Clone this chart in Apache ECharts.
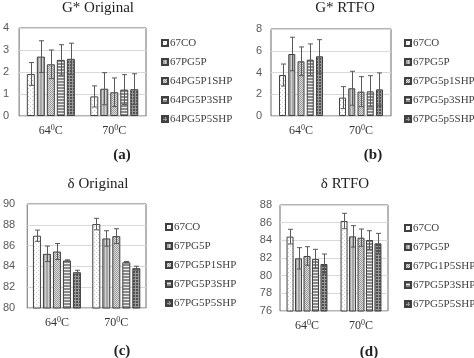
<!DOCTYPE html>
<html>
<head>
<meta charset="utf-8">
<script src="https://cdn.jsdelivr.net/npm/echarts@6/dist/echarts.min.js"></script>
<style>
  html, body { margin: 0; padding: 0; background: #fff; }
  #chart { width: 474px; height: 358px; }
</style>
</head>
<body>
<div id="chart"></div>
<script>
// temperatures on the x axis (superscript 0 added by formatter)
const temps = ['64', '70']

// (a) G* Original
const namesA = ['67CO', '67PG5P', '64PG5P1SHP', '64PG5P3SHP', '64PG5P5SHP']
const meansA = [[1.91, 0.89], [2.70, 1.24], [2.35, 1.08], [2.55, 1.20], [2.60, 1.22]]
const errsA = [[0.52, 0.48], [0.72, 0.73], [0.65, 0.65], [0.69, 0.68], [0.71, 0.70]]

// (b) G* RTFO
const namesB = ['67CO', '67PG5P', '67PG5p1SHP', '67PG5p3SHP', '67PG5p5SHP']
const meansB = [[3.77, 1.69], [5.70, 2.55], [5.03, 2.24], [5.18, 2.27], [5.49, 2.45]]
const errsB = [[1.01, 1.01], [1.54, 1.56], [1.32, 1.38], [1.45, 1.44], [1.53, 1.51]]

// (c) δ Original
const namesC = ['67CO', '67PG5P', '67PG5P1SHP', '67PG5P3SHP', '67PG5P5SHP']
const meansC = [[86.95, 88.07], [85.21, 86.69], [85.43, 86.91], [84.57, 84.40], [83.44, 83.83]]
const errsC = [[0.54, 0.55], [0.74, 0.74], [0.77, 0.71], [0.06, 0.07], [0.19, 0.19]]

// (d) δ RTFO
const namesD = ['67CO', '67PG5P', '67PG1P5SHP', '67PG5P3SHP', '67PG5P5SHP']
const meansD = [[84.42, 86.19], [81.96, 84.45], [82.23, 84.30], [81.89, 84.04], [81.32, 83.66]]
const errsD = [[0.83, 0.87], [1.21, 1.21], [1.05, 0.98], [1.09, 1.05], [1.13, 1.13]]

// hatch fills, one per mix
function pat(w, h, draw) {
  const c = document.createElement('canvas')
  c.width = w
  c.height = h
  draw(c.getContext('2d'))
  return { image: c, repeat: 'repeat' }
}
const fills = [
  pat(4, 4, ctx => { ctx.fillStyle = '#fff'; ctx.fillRect(0, 0, 4, 4); ctx.fillStyle = '#c8c8c8'; ctx.fillRect(0, 0, 1, 1); ctx.fillRect(2, 2, 1, 1) }),
  pat(3, 1, ctx => { ctx.fillStyle = '#a6a6a6'; ctx.fillRect(0, 0, 3, 1); ctx.fillStyle = '#d0d0d0'; ctx.fillRect(0, 0, 1, 1) }),
  pat(2, 2, ctx => { ctx.fillStyle = '#dedede'; ctx.fillRect(0, 0, 2, 2); ctx.fillStyle = '#9a9a9a'; ctx.fillRect(0, 0, 1, 1); ctx.fillRect(1, 1, 1, 1) }),
  pat(1, 3, ctx => { ctx.fillStyle = '#8c8c8c'; ctx.fillRect(0, 0, 1, 3); ctx.fillStyle = '#eeeeee'; ctx.fillRect(0, 2, 1, 1) }),
  pat(3, 3, ctx => { ctx.fillStyle = '#505050'; ctx.fillRect(0, 0, 3, 3); ctx.fillStyle = '#9a9a9a'; ctx.fillRect(0, 0, 3, 1); ctx.fillRect(0, 0, 1, 3) })
]

const panels = [
  { names: namesA, means: meansA, errs: errsA, min: 0, max: 4, interval: 1, margin: 10,
    grid: { left: 17, top: 28, width: 129, height: 88 }, barW: 8, gap: 0.25, legend: { left: 161, top: 36 } },
  { names: namesB, means: meansB, errs: errsB, min: 0, max: 8, interval: 2, margin: 9,
    grid: { left: 271, top: 29, width: 120, height: 87 }, barW: 7, gap: 0.32, legend: { left: 404, top: 36 } },
  { names: namesC, means: meansC, errs: errsC, min: 80, max: 90, interval: 2, margin: 12,
    grid: { left: 21, top: 204, width: 125, height: 104 }, barW: 8, gap: 0.25, legend: { left: 165, top: 220 } },
  { names: namesD, means: meansD, errs: errsD, min: 76, max: 88, interval: 2, margin: 8,
    grid: { left: 280, top: 205, width: 108, height: 106 }, barW: 7, gap: 0.21, legend: { left: 404, top: 221 } }
]

const grid = [], xAxis = [], yAxis = [], series = [], legend = []
panels.forEach((p, k) => {
  grid.push(Object.assign({ show: true, borderColor: '#6a6a6a', borderWidth: 1, backgroundColor: 'transparent' }, p.grid))
  xAxis.push({
    type: 'category', gridIndex: k, data: temps,
    axisLine: { show: false }, axisTick: { show: false },
    axisLabel: {
      interval: 0, margin: 8, color: '#333', fontFamily: 'Liberation Serif', fontSize: 12,
      formatter: v => v + '{s|0}C',
      rich: { s: { fontSize: 8, fontFamily: 'Liberation Serif', color: '#333', padding: [0, 0, 6, 0] } }
    }
  })
  yAxis.push({
    type: 'value', gridIndex: k, min: p.min, max: p.max, interval: p.interval,
    axisLine: { show: false }, axisTick: { show: false },
    splitLine: { lineStyle: { color: '#d9d9d9' } },
    axisLabel: { margin: p.margin, color: '#595959', fontFamily: 'Liberation Sans', fontSize: 11 }
  })
  p.names.forEach((n, i) => {
    series.push({
      name: n, type: 'bar', xAxisIndex: k, yAxisIndex: k,
      barWidth: p.barW, barGap: Math.round(p.gap * 100) + '%',
      itemStyle: { color: fills[i], borderColor: '#404040', borderWidth: 1 },
      data: p.means[i]
    })
  })
  const errData = []
  p.names.forEach((n, i) => {
    temps.forEach((t, c) => errData.push([c, p.means[i][c], p.errs[i][c], i]))
  })
  const step = p.barW * (1 + p.gap)
  series.push({
    type: 'custom', xAxisIndex: k, yAxisIndex: k, silent: true, z: 5,
    data: errData,
    renderItem(params, api) {
      const m = api.value(1), e = api.value(2), i = api.value(3)
      const hi = api.coord([api.value(0), m + e])
      const lo = api.coord([api.value(0), m - e])
      const x = Math.round(hi[0] + (i - 2) * step) + 0.5
      const st = { stroke: '#595959', lineWidth: 1 }
      return {
        type: 'group',
        children: [
          { type: 'line', shape: { x1: x, y1: hi[1], x2: x, y2: lo[1] }, style: st },
          { type: 'line', shape: { x1: x - 2.5, y1: hi[1], x2: x + 2.5, y2: hi[1] }, style: st },
          { type: 'line', shape: { x1: x - 2.5, y1: lo[1], x2: x + 2.5, y2: lo[1] }, style: st }
        ]
      }
    }
  })
  legend.push({
    orient: 'vertical', left: p.legend.left, top: p.legend.top, padding: 0,
    data: p.names, icon: 'rect', itemWidth: 6, itemHeight: 6, itemGap: 5,
    selectedMode: false,
    textStyle: { fontFamily: 'Liberation Serif', fontSize: 11, color: '#404040', padding: [0, 0, 0, -3], lineHeight: 14 }
  })
})

const tStyle = { fontFamily: 'Liberation Serif', fontSize: 15, fontWeight: 'normal', color: '#222' }
const lStyle = { fontFamily: 'Liberation Serif', fontSize: 15, fontWeight: 'bold', color: '#222' }
const title = [
  { text: 'G* Original', left: 93, top: -4, textAlign: 'center', textStyle: tStyle },
  { text: 'G* RTFO', left: 340, top: -4, textAlign: 'center', textStyle: tStyle },
  { text: 'δ Original', left: 93, top: 172, textAlign: 'center', textStyle: tStyle },
  { text: 'δ RTFO', left: 340, top: 172, textAlign: 'center', textStyle: tStyle },
  { text: '(a)', left: 117, top: 143, textAlign: 'center', textStyle: lStyle },
  { text: '(b)', left: 368, top: 143, textAlign: 'center', textStyle: lStyle },
  { text: '(c)', left: 117, top: 339, textAlign: 'center', textStyle: lStyle },
  { text: '(d)', left: 364, top: 340, textAlign: 'center', textStyle: lStyle }
]

const chart = echarts.init(document.getElementById('chart'))
chart.setOption({ animation: false, title, grid, xAxis, yAxis, legend, series })
</script>
</body>
</html>
